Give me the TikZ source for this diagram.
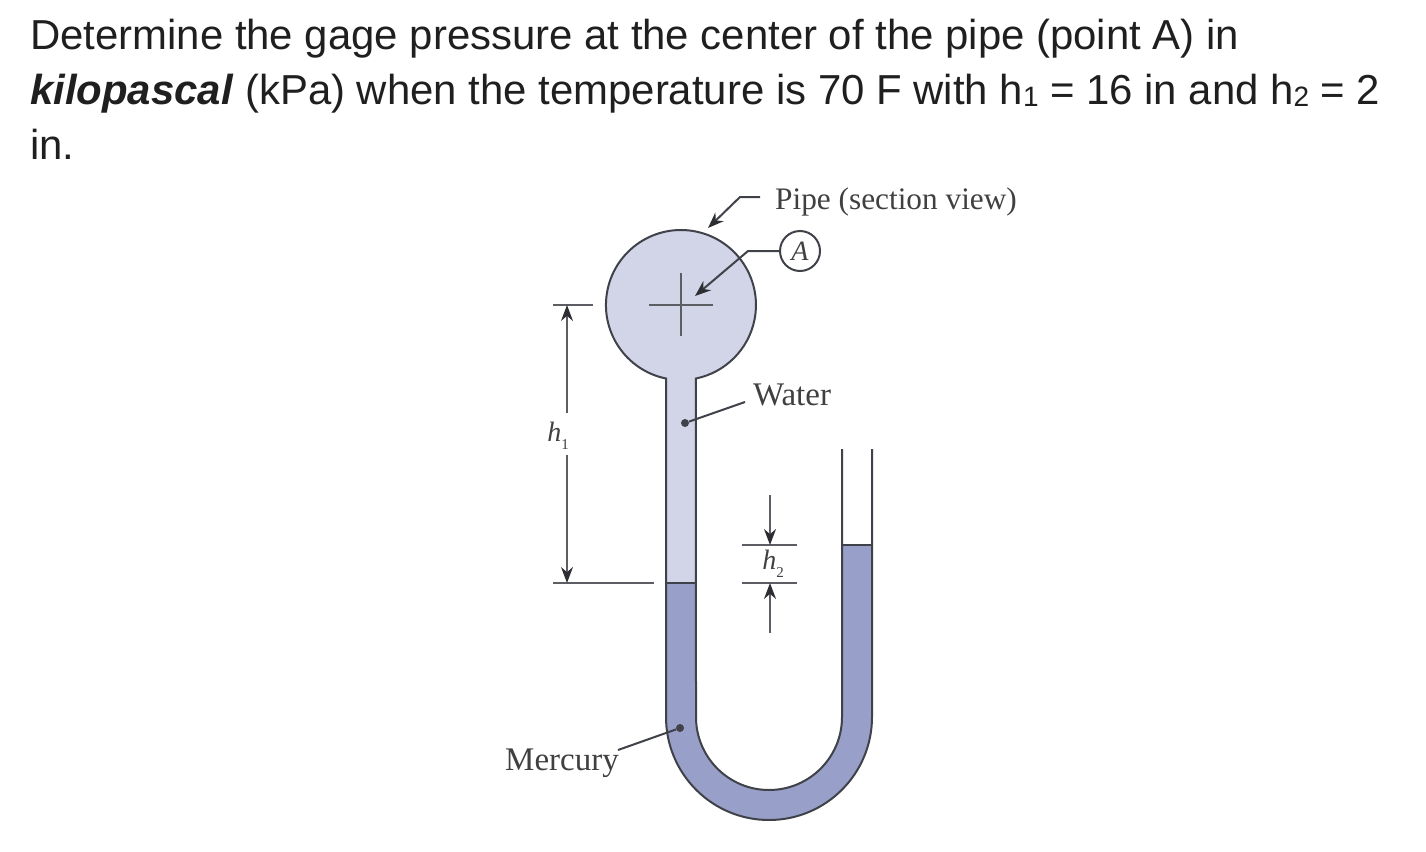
\documentclass[tikz,border=0pt]{standalone}
\usepackage{fontspec}
\setmainfont{Liberation Sans}
\newfontfamily\figfont{Liberation Serif}
\usetikzlibrary{arrows.meta}
\definecolor{waterc}{HTML}{D2D4E8}
\definecolor{mercc}{HTML}{989FC8}
\definecolor{linec}{HTML}{3F4248}
\tikzset{
  headline/.style={anchor=base west,inner sep=0pt,text=black!88,font=\fontsize{41.9}{47}\selectfont},
  figlabel/.style={inner sep=0pt,text=black!75,font=\figfont\fontsize{31.3}{36}\selectfont},
  wall/.style={draw=linec,line width=2pt},
  thin line/.style={draw=linec!85,line width=1.6pt},
  leader/.style={draw=linec,line width=2pt},
  tip/.style={-{Stealth[length=16pt,width=12pt,color=linec!70!black]}},
  blob/.style={circle,fill=linec,inner sep=0pt,minimum size=8pt}
}
\begin{document}
\begin{tikzpicture}[x=1pt,y=-1pt]
\useasboundingbox (0,0) rectangle (1426,851);
% heading
\node[headline] (l1) at (30,50) {Determine the gage pressure at the center of the pipe (point A) in};
\node[headline] (l2) at (30,104) {\textbf{\textit{kilopascal}} (kPa) when the temperature is 70 F with h\raisebox{-0.1ex}{\fontsize{28}{30}\selectfont 1} = 16 in and h\raisebox{-0.1ex}{\fontsize{28}{30}\selectfont 2} = 2};
\node[headline] (l3) at (30,159) {in.};
% fluids
\path[fill=waterc] (666,583) -- (666,378.5) arc[start angle=258.5,end angle=-78.5,radius=75pt] -- (696,583) -- cycle;
\path[fill=mercc] (666,583) -- (666,717) arc[start angle=180,end angle=360,radius=103pt] -- (872,545) -- (842,545) -- (842,717) arc[start angle=0,end angle=-180,radius=73pt] -- (696,583) -- cycle;
% walls
\draw[wall] (666,717) -- (666,378.5) arc[start angle=258.5,end angle=-78.5,radius=75pt] -- (696,717);
\draw[wall] (666,717) arc[start angle=180,end angle=360,radius=103pt] -- (872,449);
\draw[wall] (696,717) arc[start angle=180,end angle=360,radius=73pt] -- (842,449);
\draw[wall] (666,583) -- (696,583);
\draw[wall] (842,545) -- (872,545);
% centre cross
\draw[thin line] (649,305) -- (713,305);
\draw[thin line] (681,273) -- (681,336);
% labels
\node[figlabel,anchor=west] (pipe) at (775,202) {Pipe (section view)};
\node[draw=linec,line width=2pt,circle,minimum size=40pt,inner sep=0pt,font=\figfont\itshape\fontsize{28}{30}\selectfont,text=black!75] (ptA) at (800,251) {A};
\node[figlabel,font=\figfont\fontsize{33}{36}\selectfont] (water) at (792,395) {Water};
\node[figlabel,font=\figfont\fontsize{33}{36}\selectfont] (mercury) at (562,763) {Mercury};
\coordinate (pipeEnd) at (708,228);
\coordinate (pipeStart) at (760,197);
\coordinate (aEnd) at (695,296);
\node[blob] (wdot) at (685,423) {};
\node[blob] (mdot) at (680,728) {};
% leaders
\draw[leader,tip] (pipeStart) -- (740,197) -- (pipeEnd);
\draw[leader,tip] (ptA.west) -- (748,251) -- (aEnd);
\draw[leader] (745,402) -- (wdot);
\draw[leader] (618,750) -- (mdot);
% h1 dimension
\coordinate (h1top) at (567,305);
\coordinate (h1bot) at (567,583);
\draw[thin line] (553,305) -- (593,305);
\draw[thin line] (553,583) -- (654,583);
\node[inner sep=0pt,text=black!75,font=\figfont\itshape\fontsize{28}{32}\selectfont] (h1) at (558,436) {h\raisebox{-0.6ex}{\upshape\fontsize{15}{16}\selectfont 1}};
\draw[thin line,tip] (567,413) -- (h1top);
\draw[thin line,tip] (567,455) -- (h1bot);
% h2 dimension
\coordinate (h2top) at (770,545);
\coordinate (h2bot) at (770,583);
\draw[thin line] (742,545) -- (797,545);
\draw[thin line] (742,583) -- (797,583);
\node[inner sep=0pt,text=black!75,font=\figfont\itshape\fontsize{28}{32}\selectfont] (h2) at (773,564) {h\raisebox{-0.6ex}{\upshape\fontsize{15}{16}\selectfont 2}};
\draw[thin line,tip] (770,495) -- (h2top);
\draw[thin line,tip] (770,633) -- (h2bot);
\end{tikzpicture}
\end{document}
